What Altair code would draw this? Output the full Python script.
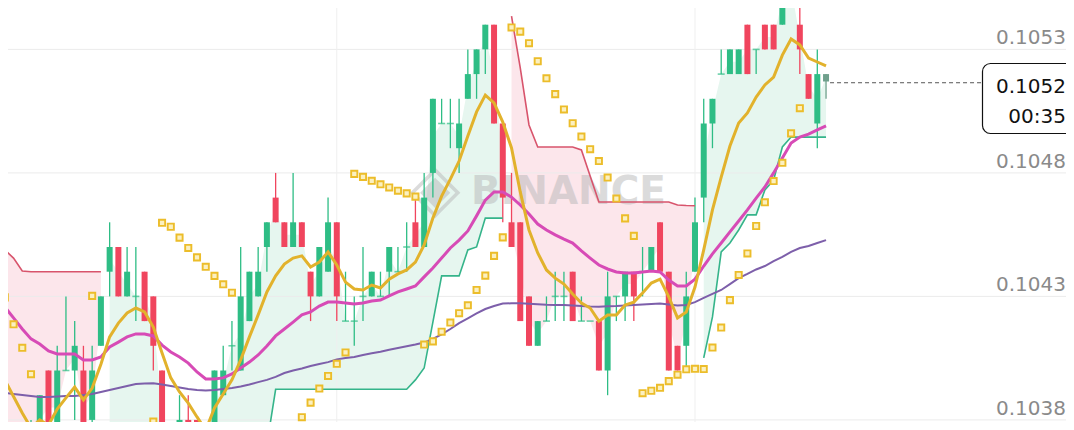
"""
Candlestick chart with EMA lines, Parabolic SAR and a Supertrend band,
drawn the way the Binance app shows it.
"""

import altair as alt
import pandas as pd

# ---- candles (one row of ten per line) ----
opens = [
    0.1037, 0.1035, 0.1036, 0.1036, 0.1037, 0.1040, 0.1037, 0.1040, 0.1040, 0.1040,
    0.1038, 0.1041, 0.1044, 0.1045, 0.1043, 0.1043, 0.1044, 0.1043, 0.1040, 0.1037,
    0.1037, 0.1038, 0.1038, 0.1037, 0.1037, 0.1039, 0.1041, 0.1040, 0.1042, 0.1043,
    0.1045, 0.1047, 0.1046, 0.1045, 0.1046, 0.1044, 0.1043, 0.1044, 0.1046, 0.1042,
    0.1042, 0.1043, 0.1043, 0.1043, 0.1044, 0.1044, 0.1045, 0.1046, 0.1045, 0.1048,
    0.1050, 0.1050, 0.1049, 0.1051, 0.1052, 0.1053, 0.1054, 0.1050, 0.1046, 0.1046,
    0.1043, 0.1041, 0.1042, 0.1043, 0.1043, 0.1044, 0.1042, 0.1042, 0.1042, 0.1040,
    0.1043, 0.1043, 0.1044, 0.1044, 0.1044, 0.1046, 0.1044, 0.1041, 0.1041, 0.1044,
    0.1047, 0.1050, 0.1052, 0.1052, 0.1052, 0.1054, 0.1053, 0.1054, 0.1054, 0.1054,
    0.1056, 0.1054, 0.1052, 0.1050, 0.10517,
]
highs = [
    0.1037, 0.1037, 0.1036, 0.1038, 0.1039, 0.1040, 0.1041, 0.1043, 0.1042, 0.1041,
    0.1041, 0.1043, 0.1046, 0.1045, 0.1045, 0.1045, 0.1044, 0.1043, 0.1040, 0.1037,
    0.1039, 0.1039, 0.1038, 0.1037, 0.1040, 0.1041, 0.1042, 0.1045, 0.1044, 0.1045,
    0.1046, 0.1048, 0.1046, 0.1048, 0.1046, 0.1044, 0.1045, 0.1047, 0.1046, 0.1044,
    0.1043, 0.1045, 0.1044, 0.1044, 0.1045, 0.1045, 0.1046, 0.1047, 0.1048, 0.1051,
    0.1051, 0.1051, 0.1051, 0.1053, 0.1053, 0.1054, 0.1054, 0.1050, 0.1048, 0.1046,
    0.1043, 0.1042, 0.1043, 0.1044, 0.1044, 0.1044, 0.1043, 0.1042, 0.1042, 0.1044,
    0.1043, 0.1044, 0.1044, 0.1045, 0.1045, 0.1046, 0.1044, 0.1041, 0.1044, 0.1047,
    0.1051, 0.1051, 0.1053, 0.1053, 0.1053, 0.1054, 0.1053, 0.1054, 0.1054, 0.1056,
    0.1056, 0.1055, 0.1052, 0.1053, 0.1052,
]
lows = [
    0.1036, 0.1035, 0.1035, 0.1036, 0.1037, 0.1037, 0.1037, 0.1040, 0.1038, 0.1037,
    0.1037, 0.1041, 0.1043, 0.1043, 0.1043, 0.1042, 0.1042, 0.1040, 0.1036, 0.1035,
    0.1036, 0.1036, 0.1036, 0.1035, 0.1036, 0.1039, 0.1040, 0.1040, 0.1042, 0.1043,
    0.1044, 0.1046, 0.1045, 0.1045, 0.1045, 0.1042, 0.1043, 0.1044, 0.1042, 0.1042,
    0.1041, 0.1042, 0.1043, 0.1043, 0.1043, 0.1044, 0.1044, 0.1045, 0.1045, 0.1047,
    0.1050, 0.1049, 0.1048, 0.1051, 0.1051, 0.1052, 0.1050, 0.1046, 0.1045, 0.1042,
    0.1041, 0.1041, 0.1042, 0.1042, 0.1042, 0.1042, 0.1042, 0.1042, 0.1040, 0.1039,
    0.1042, 0.1042, 0.1042, 0.1043, 0.1044, 0.1044, 0.1040, 0.1040, 0.1040, 0.1044,
    0.1046, 0.1049, 0.1052, 0.1052, 0.1052, 0.1052, 0.1052, 0.1053, 0.1053, 0.1054,
    0.1055, 0.1052, 0.1051, 0.1049, 0.1051,
]
closes = [
    0.1036, 0.1036, 0.1035, 0.1037, 0.1039, 0.1037, 0.1040, 0.1040, 0.1041, 0.1037,
    0.1040, 0.1043, 0.1045, 0.1043, 0.1044, 0.1043, 0.1042, 0.1041, 0.1037, 0.1036,
    0.1038, 0.1037, 0.1037, 0.1036, 0.1040, 0.1040, 0.1041, 0.1043, 0.1044, 0.1044,
    0.1046, 0.1046, 0.1045, 0.1046, 0.1045, 0.1043, 0.1045, 0.1046, 0.1043, 0.1042,
    0.1042, 0.1043, 0.1044, 0.1043, 0.1045, 0.1044, 0.1045, 0.1045, 0.1047, 0.1051,
    0.1050, 0.1050, 0.1050, 0.1052, 0.1053, 0.1054, 0.1050, 0.1047, 0.1045, 0.1042,
    0.1041, 0.1042, 0.1042, 0.1043, 0.1043, 0.1042, 0.1042, 0.1042, 0.1040, 0.1043,
    0.1043, 0.1044, 0.1043, 0.1044, 0.1045, 0.1044, 0.1040, 0.1040, 0.1043, 0.1046,
    0.1050, 0.1051, 0.1052, 0.1053, 0.1053, 0.1052, 0.1053, 0.1053, 0.1053, 0.1056,
    0.1055, 0.1053, 0.1051, 0.1052, 0.1052,
]

# ---- indicators ----
ema_fast = [
    0.103962, 0.103895, 0.103828, 0.103767, 0.103800, 0.103779, 0.103844, 0.103889, 0.103933, 0.103881,
    0.103929, 0.104025, 0.104136, 0.104192, 0.104233, 0.104253, 0.104237, 0.104176, 0.104071, 0.103970,
    0.103913, 0.103868, 0.103812, 0.103759, 0.103848, 0.103905, 0.103962, 0.104043, 0.104136, 0.104225,
    0.104318, 0.104383, 0.104431, 0.104455, 0.104464, 0.104419, 0.104439, 0.104480, 0.104427, 0.104358,
    0.104330, 0.104326, 0.104346, 0.104334, 0.104370, 0.104391, 0.104407, 0.104439, 0.104508, 0.104617,
    0.104706, 0.104775, 0.104848, 0.104949, 0.105047, 0.105115, 0.105083, 0.105006, 0.104901, 0.104723,
    0.104569, 0.104476, 0.104407, 0.104374, 0.104350, 0.104310, 0.104273, 0.104253, 0.104200, 0.104225,
    0.104225, 0.104265, 0.104277, 0.104314, 0.104354, 0.104370, 0.104298, 0.104213, 0.104237, 0.104338,
    0.104488, 0.104650, 0.104783, 0.104909, 0.105002, 0.105043, 0.105107, 0.105156, 0.105188, 0.105277,
    0.105342, 0.105318, 0.105265, 0.105249, 0.105233,
]
ema_mid = [
    0.104257, 0.104213, 0.104168, 0.104128, 0.104107, 0.104079, 0.104067, 0.104067, 0.104067, 0.104043,
    0.104043, 0.104055, 0.104095, 0.104115, 0.104136, 0.104148, 0.104148, 0.104140, 0.104103, 0.104075,
    0.104055, 0.104030, 0.103994, 0.103966, 0.103966, 0.103970, 0.103986, 0.104010, 0.104034, 0.104063,
    0.104099, 0.104140, 0.104168, 0.104196, 0.104225, 0.104237, 0.104261, 0.104277, 0.104277, 0.104273,
    0.104269, 0.104273, 0.104281, 0.104285, 0.104302, 0.104318, 0.104330, 0.104342, 0.104379, 0.104415,
    0.104455, 0.104496, 0.104528, 0.104565, 0.104626, 0.104690, 0.104723, 0.104723, 0.104702, 0.104670,
    0.104634, 0.104593, 0.104569, 0.104549, 0.104532, 0.104516, 0.104484, 0.104455, 0.104427, 0.104411,
    0.104399, 0.104395, 0.104395, 0.104399, 0.104403, 0.104399, 0.104366, 0.104342, 0.104342, 0.104370,
    0.104423, 0.104472, 0.104516, 0.104561, 0.104605, 0.104650, 0.104698, 0.104743, 0.104800, 0.104860,
    0.104921, 0.104945, 0.104957, 0.104974, 0.104990,
]
ema_slow = [
    0.103909, 0.103905, 0.103901, 0.103897, 0.103893, 0.103893, 0.103895, 0.103897, 0.103897, 0.103901,
    0.103905, 0.103913, 0.103921, 0.103929, 0.103937, 0.103945, 0.103947, 0.103948, 0.103943, 0.103937,
    0.103931, 0.103925, 0.103921, 0.103919, 0.103921, 0.103925, 0.103929, 0.103935, 0.103943, 0.103953,
    0.103962, 0.103974, 0.103990, 0.104000, 0.104008, 0.104018, 0.104026, 0.104034, 0.104045, 0.104051,
    0.104055, 0.104063, 0.104070, 0.104076, 0.104084, 0.104091, 0.104098, 0.104105, 0.104113, 0.104128,
    0.104146, 0.104168, 0.104192, 0.104211, 0.104231, 0.104249, 0.104261, 0.104271, 0.104272, 0.104272,
    0.104270, 0.104268, 0.104266, 0.104265, 0.104265, 0.104263, 0.104261, 0.104259, 0.104258, 0.104260,
    0.104261, 0.104263, 0.104265, 0.104267, 0.104269, 0.104271, 0.104267, 0.104263, 0.104265, 0.104277,
    0.104294, 0.104310, 0.104326, 0.104350, 0.104374, 0.104391, 0.104409, 0.104423, 0.104443, 0.104460,
    0.104480, 0.104496, 0.104504, 0.104516, 0.104528,
]
sar = [
    0.104296, 0.104187, 0.104092, 0.103985, None, None, None, None, None, None,
    0.104302, None, None, None, None, None, 0.103762, 0.103793, 0.104598, 0.104582,
    0.104538, 0.104496, 0.104458, 0.104420, 0.104383, 0.104349, 0.104315, None, None, None,
    None, None, None, 0.103759, 0.103811, 0.103870, 0.103927, 0.103978, 0.104027, 0.104073,
    0.104796, 0.104784, 0.104768, 0.104754, 0.104741, 0.104728, 0.104717, 0.104704, 0.104105, 0.104118,
    0.104157, 0.104194, 0.104232, 0.104264, 0.104326, 0.104384, 0.104464, 0.104539, 0.105389, 0.105372,
    0.105325, 0.105252, 0.105183, 0.105119, 0.105057, 0.105001, 0.104947, 0.104896, 0.104848, 0.104781,
    0.104696, 0.104616, 0.104545, 0.103908, 0.103918, 0.103930, 0.103957, 0.103983, 0.104005, 0.104007,
    0.104006, 0.104093, 0.104174, 0.104285, 0.104387, 0.104474, 0.104585, 0.104681, 0.104767, 0.104841,
    0.104960, 0.105062, None, None, None,
]
supertrend = [
    0.104488, 0.104455, 0.104403, 0.104400, 0.104400, 0.104400, 0.104400, 0.104400, 0.104400, 0.104400,
    0.104400, 0.104400, 0.103650, 0.103650, 0.103650, 0.103650, 0.103650, 0.103650, 0.103650, 0.103650,
    0.103650, 0.103650, 0.103650, 0.103650, 0.103650, 0.103650, 0.103650, 0.103650, 0.103650, 0.103650,
    0.103700, 0.103924, 0.103924, 0.103924, 0.103924, 0.103924, 0.103924, 0.103924, 0.103924, 0.103924,
    0.103924, 0.103924, 0.103924, 0.103924, 0.103924, 0.103924, 0.103924, 0.103962, 0.104010, 0.104196,
    0.104383, 0.104383, 0.104383, 0.104488, 0.104500, 0.104617, 0.104617, 0.104617, 0.105435, 0.105225,
    0.104994, 0.104905, 0.104905, 0.104905, 0.104905, 0.104905, 0.104893, 0.104787, 0.104682, 0.104682,
    0.104682, 0.104682, 0.104682, 0.104682, 0.104682, 0.104682, 0.104682, 0.104670, 0.104668, 0.104667,
    0.104051, 0.104217, 0.104480, 0.104516, 0.104569, 0.104630, 0.104630, 0.104731, 0.104771, 0.104905,
    0.104945, 0.104945, 0.104945, 0.104945, 0.104945,
]
# candles where the supertrend flips (down -> up -> down -> up)
trend_flips = [12, 58, 80]

# ---- price axis, grid and live price ----
axis_prices = [0.1053, 0.1048, 0.1043, 0.1038]
axis_labels = ["0.1053", "0.1048", "0.1043", "0.1038"]
grid_candles = [38, 79]
last_price = 0.105165
last_price_text = "0.1052"
countdown_text = "00:35"

# ---- layout ----
W, H = 1058, 414
X_DOMAIN = [0.9388, 120.894]
Y_DOMAIN = [0.1037915, 0.1054676]
GREEN, RED, LIVE = "#2EBD85", "#F0455E", "#6FA08C"
FONT = "DejaVu Sans"


def main():
    n = len(closes)
    df = pd.DataFrame({
        "k": list(range(n)), "open": opens, "high": highs, "low": lows,
        "close": closes, "ema_fast": ema_fast, "ema_mid": ema_mid,
        "ema_slow": ema_slow, "sar": sar, "st": supertrend,
    })
    df["mid"] = (df["open"] + df["close"]) / 2
    df["seg"] = [sum(k >= f for f in trend_flips) for k in range(n)]
    df["st_line"] = df["seg"].map(lambda s: "#D8546C" if s % 2 == 0 else "#35B48A")
    df["st_fill"] = df["seg"].map(lambda s: "#FCE6EB" if s % 2 == 0 else "#E6F6EF")
    df["body"] = [GREEN if c >= o else RED for o, c in zip(opens, closes)]
    df.loc[n - 1, "body"] = LIVE

    xs = alt.Scale(domain=X_DOMAIN, nice=False, zero=False)
    ys = alt.Scale(domain=Y_DOMAIN, nice=False, zero=False)
    x_k = alt.X("k:Q", scale=xs, axis=None)

    def y_of(field):
        return alt.Y(f"{field}:Q", scale=ys, axis=None)

    base = alt.Chart(df)

    fill = base.mark_area(clip=True).encode(
        x=x_k, y=y_of("st"), y2="mid:Q",
        color=alt.Color("st_fill:N", scale=None), detail="seg:N")

    grid_df = pd.DataFrame({"price": axis_prices, "label": axis_labels})
    grid_h = alt.Chart(grid_df).mark_rule(color="#EBEBEB", strokeWidth=1).encode(
        y=y_of("price"), x=alt.value(0), x2=alt.value(W))
    grid_v = alt.Chart(pd.DataFrame({"k": grid_candles})).mark_rule(
        color="#EFEFEF", strokeWidth=1).encode(
        x=x_k, y=alt.value(0), y2=alt.value(H))

    # watermark
    wm = pd.DataFrame({"t": ["BINANCE"], "logo": ["\u25c8"]})
    logo = alt.Chart(wm).mark_text(
        font=FONT, fontSize=66, color="#B8B8B8", opacity=0.5,
        align="center", baseline="middle").encode(
        x=alt.value(427), y=alt.value(182), text="logo:N")
    word = alt.Chart(wm).mark_text(
        font=FONT, fontSize=39, fontWeight="bold", color="#B8B8B8",
        opacity=0.5, align="left", baseline="alphabetic").encode(
        x=alt.value(463), y=alt.value(196), text="t:N")

    color_body = alt.Color("body:N", scale=None)
    wick = base.mark_rule(strokeWidth=1.3, clip=True).encode(
        x=x_k, y=y_of("low"), y2="high:Q", color=color_body)
    body = base.transform_filter("datum.open != datum.close").mark_bar(
        size=6, clip=True).encode(
        x=x_k, y=y_of("open"), y2="close:Q", color=color_body)
    doji = base.transform_filter("datum.open == datum.close").mark_tick(
        orient="horizontal", size=7, thickness=1.6, clip=True).encode(
        x=x_k, y=y_of("close"), color=color_body)

    st_line = base.mark_line(strokeWidth=1.6, clip=True).encode(
        x=x_k, y=y_of("st"), color=alt.Color("st_line:N", scale=None),
        detail="seg:N")
    slow = base.mark_line(color="#7D5FAA", strokeWidth=2, clip=True).encode(
        x=x_k, y=y_of("ema_slow"))
    medium = base.mark_line(color="#D74BB6", strokeWidth=3, clip=True).encode(
        x=x_k, y=y_of("ema_mid"))
    fast = base.mark_line(color="#E2B22C", strokeWidth=3, clip=True).encode(
        x=x_k, y=y_of("ema_fast"))
    dots = base.mark_square(size=38, filled=True, fill="#FBF0C0",
                            stroke="#ECBD2A", strokeWidth=1.9, opacity=1,
                            clip=True).encode(x=x_k, y=y_of("sar"))

    # live price line and its label
    live = pd.DataFrame({"k": [n - 1], "price": [last_price],
                         "p": [last_price_text], "t": [countdown_text]})
    price_line = alt.Chart(live).mark_rule(
        color="#555555", strokeWidth=1, strokeDash=[4, 3], xOffset=4).encode(
        x=x_k, x2=alt.value(974), y=y_of("price"))
    box = alt.Chart(live).mark_rect(
        fill="white", stroke="#111111", strokeWidth=1.2, cornerRadius=8).encode(
        x=alt.value(974.5), x2=alt.value(1075),
        y=alt.value(55.5), y2=alt.value(125.5))
    box_price = alt.Chart(live).mark_text(
        font=FONT, fontSize=20, color="#111111", align="right",
        baseline="alphabetic").encode(
        x=alt.value(W), y=alt.value(85), text="p:N")
    box_timer = alt.Chart(live).mark_text(
        font=FONT, fontSize=20, color="#111111", align="right",
        baseline="alphabetic").encode(
        x=alt.value(W), y=alt.value(115), text="t:N")

    axis_text = alt.Chart(grid_df).mark_text(
        font=FONT, fontSize=20, color="#8A8A8A", align="right",
        baseline="alphabetic", dy=-5).encode(
        x=alt.value(W), y=y_of("price"), text="label:N")

    chart = alt.layer(
        fill, grid_h, grid_v, logo, word, wick, body, doji, st_line,
        slow, medium, fast, dots, price_line, box, box_price, box_timer,
        axis_text,
    ).properties(
        width=W, height=H, padding=0, background="white",
        autosize=alt.AutoSizeParams(type="none"),
    ).configure_view(stroke=None)

    chart.save("out.html", embed_options={"renderer": "svg", "actions": False})


if __name__ == "__main__":
    main()
